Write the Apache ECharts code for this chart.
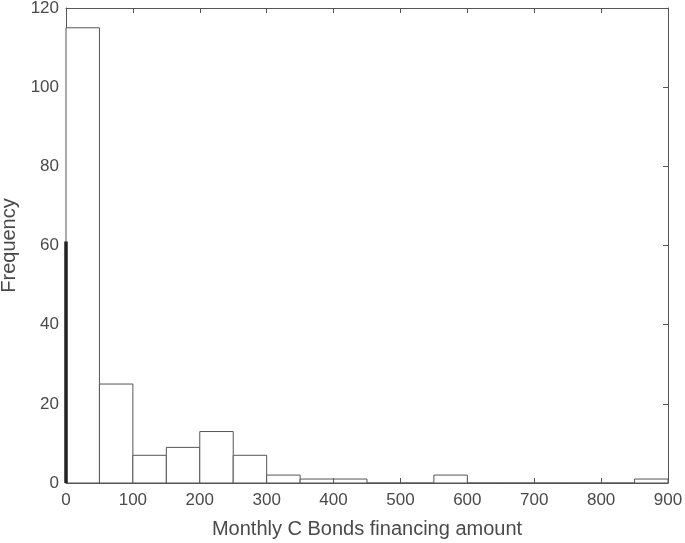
<!DOCTYPE html>
<html><head><meta charset="utf-8">
<script src="https://cdn.jsdelivr.net/npm/echarts@6/dist/echarts.min.js"></script>
<style>html,body{margin:0;padding:0;background:#fff}#c{width:685px;height:543px}</style>
</head><body><div id="c"></div>
<script>
const binStarts = [0,50,100,150,200,250,300,350,400,450,500,550,600,650,700,750,800,850];
const binWidth = 50;
const counts = [115,25,7,9,13,7,2,1,1,0,0,2,0,0,0,0,0,1];
const spikeX = 0;
const spikeValue = 61;
const xTicks = [0,100,200,300,400,500,600,700,800,900];
const yTicks = [0,20,40,60,80,100,120];

const histData = binStarts.map((s,i)=>[s, s+binWidth, counts[i]]);
const axisColor = '#555';
const textColor = '#4a4a4a';
const font = 'Liberation Sans, Arial, sans-serif';

const chart = echarts.init(document.getElementById('c'));
const baseAxis = {
  axisLine:{show:true,onZero:false,lineStyle:{color:axisColor,width:1}},
  axisTick:{show:true,inside:true,length:5,lineStyle:{color:axisColor}},
  splitLine:{show:false}
};
chart.setOption({
  animation:false,
  grid:{left:66,right:17,top:8,bottom:60,containLabel:false,outerBoundsMode:'none'},
  xAxis:[
    Object.assign({type:'value',min:xTicks[0],max:xTicks[xTicks.length-1],interval:xTicks[1]-xTicks[0],position:'bottom',
      name:'Monthly C Bonds financing amount',nameLocation:'middle',nameGap:36,
      nameTextStyle:{color:textColor,fontSize:20,fontFamily:font},
      axisLabel:{color:textColor,fontSize:17,fontFamily:font,margin:9}},baseAxis),
    Object.assign({type:'value',min:xTicks[0],max:xTicks[xTicks.length-1],interval:xTicks[1]-xTicks[0],position:'top',axisLabel:{show:false}},baseAxis)
  ],
  yAxis:[
    Object.assign({type:'value',min:yTicks[0],max:yTicks[yTicks.length-1],interval:yTicks[1]-yTicks[0],position:'left',
      name:'Frequency',nameLocation:'middle',nameGap:43,
      nameTextStyle:{color:textColor,fontSize:20,fontFamily:font},
      axisLabel:{color:textColor,fontSize:17,fontFamily:font,margin:7}},baseAxis),
    Object.assign({type:'value',min:yTicks[0],max:yTicks[yTicks.length-1],interval:yTicks[1]-yTicks[0],position:'right',axisLabel:{show:false}},baseAxis)
  ],
  series:[
    {type:'custom',xAxisIndex:0,yAxisIndex:0,data:histData,
     encode:{x:[0,1],y:2},
     renderItem:function(params,api){
       const p0=api.coord([api.value(0),0]);
       const p1=api.coord([api.value(1),api.value(2)]);
       return {type:'rect',shape:{x:p0[0],y:p1[1],width:p1[0]-p0[0],height:p0[1]-p1[1]},
         style:{fill:'#fff',stroke:'#555',lineWidth:1}};
     }},
    {type:'line',xAxisIndex:0,yAxisIndex:0,data:[[spikeX,0],[spikeX,spikeValue]],
     symbol:'none',lineStyle:{color:'#222',width:3.5},z:5}
  ]
});
</script></body></html>
